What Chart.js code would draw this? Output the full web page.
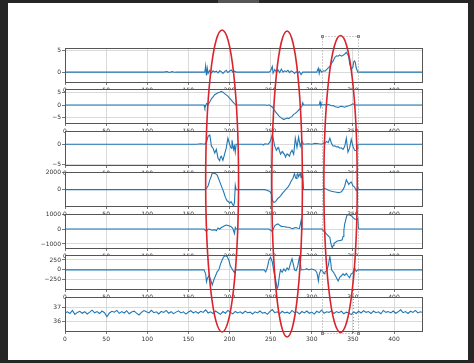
<!DOCTYPE html>
<html>
<head>
<meta charset="utf-8">
<script src="https://cdn.jsdelivr.net/npm/chart.js@4.4.1/dist/chart.umd.min.js"></script>
<style>
  body { margin:0; background:#262626; width:474px; height:363px; overflow:hidden; position:relative; }
  #paper { position:absolute; left:8px; top:3px; width:460px; height:357px; background:#fff; }
  #tab { position:absolute; left:218px; top:0; width:41px; height:3px; background:#555; }
  canvas { position:absolute; left:0; }
</style>
</head>
<body>
<div id="paper"></div>
<div id="tab"></div>
<div id="holder"></div>
<script>
// x ticks shared by every panel
const xTicks = [0, 50, 100, 150, 200, 250, 300, 350, 400]
const xMax = 434

// panel 1
const p1X = [0,120,124,127,130,133,136,170,171,172,173,174,176,178,180,182,184,186,188,190,192,194,196,198,200,202,204,206,208,248,250,252,253,255,257,259,261,263,265,267,269,271,273,275,277,279,281,283,285,287,289,306,308,309,310,312,314,316,318,320,322,324,326,328,330,332,334,336,338,340,342,344,345,346,348,350,351,352,353,354,356,434]
const p1Y = [0,0,0.1,-0.1,0.1,-0.05,0,0,1.5,-0.8,0.9,-0.3,0.4,-0.2,0.3,0,0.2,-0.2,0.3,0.1,-0.3,0.1,0.4,-0.1,0.2,0.5,0,0.2,0,0,0.3,1.3,-0.2,0.6,0,0.5,-0.1,0.7,0,0.3,0.1,0.4,-0.1,0.3,0.1,-0.3,0.1,-0.2,0.1,-0.6,0,0,0.9,-0.3,0.6,0,0.3,0.2,0.6,1.0,1.3,2.0,2.6,3.4,3.8,3.7,4.0,3.7,3.9,4.2,4.6,4.0,3.5,2.0,0.6,1.2,2.4,2.6,2.2,1.0,0,0]

// panel 2
const p2X = [0,169,170,171,172,174,176,178,180,182,184,186,188,190,192,194,196,198,200,202,204,206,208,244,246,248,250,252,254,256,258,260,262,264,266,268,270,272,274,276,278,280,282,284,286,288,289,290,309,310,311,312,314,316,318,320,322,324,326,328,330,332,334,336,338,340,342,344,346,348,350,351,353,434]
const p2Y = [0,0,-1.2,-0.3,0.6,0.2,1.2,2.5,3.3,4.2,4.6,5.0,5.2,5.5,5.2,4.6,4.1,3.6,2.8,2.1,1.3,0.6,0,0,-0.2,0.1,-0.4,-0.8,-1.8,-2.8,-3.6,-4.4,-5.0,-5.5,-5.9,-5.6,-5.3,-5.5,-5.0,-4.6,-3.8,-3.4,-2.8,-2.1,-1.4,-0.5,0.9,0,0,1.3,-0.5,0.4,0,0.2,-0.1,0.3,0,-0.3,-0.2,-0.6,-0.8,-1.0,-0.7,-0.5,-0.7,-0.9,-0.6,-0.4,-0.2,0.1,0.5,0.3,0,0]

// panel 3
const p3X = [0,160,165,170,172,174,176,177,178,180,182,184,186,188,189,190,192,194,196,198,199,200,202,203,205,206,207,208,240,241,243,247,249,251,252,254,255,257,259,260,262,264,265,267,268,270,271,273,274,276,278,280,282,284,286,288,290,296,300,304,308,312,314,316,318,320,322,324,326,328,330,332,334,336,338,340,342,344,346,348,350,352,354,355,356,434]
const p3Y = [0,0,0.1,0,0.5,2.0,2.3,1.0,-0.5,-1.0,-2.2,-1.3,-3.5,-4.1,-3.2,-3.0,-4.0,-2.5,-1.0,1.5,0.8,0,-1.0,1.0,-1.3,-0.5,-2.0,0,0,-0.2,0.1,0,0.5,1.6,2.4,0.5,-0.5,-1.5,-0.8,-1.2,-2.5,-1.8,-2.1,-2.6,-3.2,-2.4,-2.6,-3.0,-2.2,-1.5,-2.5,1.5,-0.8,1.8,-0.5,0.7,0,0.1,0,0.2,0.1,0,0.3,0.2,0.7,0.4,1.5,0.2,-0.5,-0.4,-0.7,-0.6,-1.0,-0.9,-1.3,-0.6,1.5,-2.0,-1.0,1.2,-0.5,-1.5,-1.6,-1.2,0,0]

// panel 4
const p4X = [0,170,172,174,176,178,179,181,183,185,187,189,191,193,195,197,199,200,202,204,205,206,207,208,243,246,249,251,252,254,256,257,259,261,263,265,267,269,271,273,275,277,278,279,280,281,282,283,284,286,287,288,289,290,313,315,318,321,324,327,330,333,336,338,340,342,344,345,347,348,350,352,354,356,357,434]
const p4Y = [0,0,150,450,1100,1600,1950,1900,1850,1700,1200,700,200,-300,-900,-1300,-1400,-1600,-1400,-1750,-1900,-1500,500,0,0,-100,-200,-500,-1200,-1500,-1400,-1250,-1000,-850,-600,-350,-150,100,300,600,1000,1300,1600,1850,1500,1300,1750,1850,1500,1900,1400,1850,1700,0,0,150,50,-100,-180,-250,-300,-350,-250,0,400,1150,800,600,850,900,450,300,-100,200,0,0]

// panel 5
const p5X = [0,169,171,172,174,176,178,180,182,184,186,188,190,192,194,196,198,200,202,204,206,207,208,248,250,252,254,255,257,259,261,263,265,267,269,271,273,275,277,279,281,283,285,286,287,288,312,314,316,318,320,322,323,324,325,326,327,329,331,333,335,337,338,339,340,341,342,343,344,346,348,350,352,354,356,357,434]
const p5Y = [0,0,-100,-160,0,-20,-60,-70,-40,-110,70,-10,100,160,220,270,240,200,150,50,-300,100,0,0,-80,-160,100,220,300,340,250,180,170,160,130,120,110,60,20,80,100,60,40,300,560,0,0,-110,-200,-340,-450,-560,-900,-1130,-1260,-1100,-950,-880,-800,-780,-760,-720,-500,-100,340,550,790,950,1000,950,900,780,680,650,700,0,0]

// panel 6
const p6X = [0,169,171,172,173,175,177,179,181,183,185,187,189,191,193,195,197,199,201,203,205,206,207,242,244,246,248,250,252,254,256,258,259,261,262,264,266,268,270,272,274,276,278,279,281,283,285,286,287,292,294,296,300,304,306,307,308,309,311,313,315,316,318,320,322,323,324,326,328,330,332,334,336,338,340,342,344,346,348,350,352,354,356,434]
const p6Y = [0,0,-100,-300,-220,-150,-250,-380,-250,-150,-50,0,140,250,330,360,340,260,100,30,-40,-70,0,0,-50,60,250,320,200,-50,-250,-470,-420,-100,0,-60,20,-30,50,0,150,280,100,0,-20,100,330,200,0,10,30,0,20,-10,-60,-150,-280,-120,0,-30,-100,-60,-20,100,340,200,0,-50,-120,-200,-280,-190,-150,-100,-140,-90,-150,-200,-100,-80,50,-40,0,0]

// panel 7, one value every 3 samples
const p7Step = 3
const p7Y = [36.62,36.70,36.58,36.80,36.52,36.66,36.74,36.60,36.71,36.55,36.68,36.82,36.63,36.72,36.58,36.76,36.64,36.35,36.62,36.74,36.67,36.80,36.59,36.72,36.62,36.78,36.56,36.69,36.75,36.61,36.48,36.66,36.79,36.70,36.62,36.81,36.64,36.70,36.55,36.73,36.66,36.80,36.60,36.71,36.57,36.68,36.77,36.62,36.70,36.54,36.69,36.78,36.63,36.72,36.60,36.74,36.66,36.84,36.62,36.70,36.58,36.76,36.64,36.52,36.72,36.60,36.80,36.66,36.56,36.73,36.62,36.70,36.58,36.75,36.64,36.68,36.55,36.70,36.62,36.76,36.60,36.66,36.52,36.72,36.86,36.64,36.70,36.56,36.74,36.62,36.68,36.58,36.80,36.64,36.70,36.55,36.72,36.62,36.76,36.60,36.68,36.54,36.74,36.64,36.82,36.60,36.70,36.66,36.78,36.58,36.72,36.64,36.74,36.56,36.68,36.62,36.50,36.70,36.58,36.74,36.62,36.78,36.66,36.72,36.58,36.76,36.64,36.70,36.56,36.80,36.66,36.72,36.62,36.76,36.60,36.70,36.84,36.64,36.72,36.58,36.74,36.66,36.80,36.62,36.70,36.66]
const p7X = p7Y.map((v, i) => i * p7Step)

const seriesX = [p1X, p2X, p3X, p4X, p5X, p6X, p7X]
const seriesY = [p1Y, p2Y, p3Y, p4Y, p5Y, p6Y, p7Y]
const yMins = [-2.3, -7.3, -5.2, -1900, -1270, -485, 35.33]
const yMaxs = [5.6, 6.5, 3.3, 2050, 1010, 376, 37.76]
const yTicks = [[0, 5], [-5, 0, 5], [-5, 0], [0, 2000], [-1000, 0, 1000], [-250, 0, 250], [36, 37]]

// layout of the figure
const panelTops = [48, 89, 131, 172, 214, 255, 297]
const panelH = 34
const padTop = 8
const xAxisH = 14
const tickFont = { family: 'DejaVu Sans', size: 6 }

const frame = {
  id: 'frame',
  beforeDraw(chart) {
    const a = chart.chartArea, ctx = chart.ctx
    ctx.save()
    ctx.fillStyle = '#fff'
    ctx.fillRect(a.left, a.top, a.right - a.left, a.bottom - a.top)
    ctx.restore()
  },
  afterDraw(chart) {
    const a = chart.chartArea, ctx = chart.ctx
    ctx.save()
    ctx.strokeStyle = '#555'
    ctx.lineWidth = 1
    ctx.strokeRect(Math.round(a.left) + 0.5, Math.round(a.top) + 0.5, Math.round(a.right - a.left), Math.round(a.bottom - a.top))
    ctx.restore()
  }
}

const holder = document.getElementById('holder')

for (let i = 0; i < 7; i++) {
  const cv = document.createElement('canvas')
  cv.width = 474
  cv.height = padTop + panelH + xAxisH
  cv.style.top = (panelTops[i] - padTop) + 'px'
  holder.appendChild(cv)

  const points = seriesX[i].map((x, k) => ({ x: x, y: seriesY[i][k] }))

  new Chart(cv, {
    type: 'line',
    data: { datasets: [{ data: points, borderColor: '#1f77b4', borderWidth: 1.1, pointRadius: 0, tension: 0 }] },
    options: {
      animation: false,
      responsive: false,
      devicePixelRatio: 1,
      layout: { padding: { top: padTop, right: 52, left: 0, bottom: 0 } },
      plugins: { legend: { display: false }, tooltip: { enabled: false } },
      scales: {
        x: {
          type: 'linear', min: 0, max: xMax,
          afterBuildTicks: s => { s.ticks = xTicks.map(v => ({ value: v })) },
          afterFit: s => { s.height = xAxisH },
          ticks: { font: tickFont, color: '#333', padding: 2, maxRotation: 0, autoSkip: false },
          grid: { color: '#d0d0d0', lineWidth: 0.8, tickLength: 3, tickColor: '#555' },
          border: { display: false }
        },
        y: {
          min: yMins[i], max: yMaxs[i],
          afterBuildTicks: s => { s.ticks = yTicks[i].map(v => ({ value: v })) },
          afterFit: s => { s.width = 65 },
          ticks: { font: tickFont, color: '#333', padding: 1, callback: v => String(v).replace('-', '\u2212') },
          grid: { color: '#d0d0d0', lineWidth: 0.8, tickLength: 3, tickColor: '#555' },
          border: { display: false }
        }
      }
    },
    plugins: [frame]
  })
}

// hand drawn marks on top of the figure (x in data units, y in figure pixels)
const ellipseX = [191, 270, 335]
const ellipseRX = [20, 18.6, 20.3]
const ellipseY = [181, 184, 184]
const ellipseRY = [151, 153, 148.5]
const selectX = [312.5, 356.5]
const selectY = [36, 333]

const marks = {
  id: 'marks',
  afterDraw(chart) {
    const sx = chart.scales.x, sy = chart.scales.y, ctx = chart.ctx
    ctx.save()
    // selection box
    ctx.strokeStyle = '#999'
    ctx.lineWidth = 1
    ctx.setLineDash([1, 2])
    const x0 = Math.round(sx.getPixelForValue(selectX[0])) + 0.5
    const x1 = Math.round(sx.getPixelForValue(selectX[1])) + 0.5
    const y0 = Math.round(sy.getPixelForValue(selectY[0])) + 0.5
    const y1 = Math.round(sy.getPixelForValue(selectY[1])) + 0.5
    ctx.strokeRect(x0, y0, x1 - x0, y1 - y0)
    const xm = Math.round(sx.getPixelForValue(350.4)) + 0.5
    ctx.beginPath()
    ctx.moveTo(xm, sy.getPixelForValue(290))
    ctx.lineTo(xm, y1)
    ctx.stroke()
    ctx.setLineDash([])
    ctx.strokeStyle = '#888'
    ;[[x0, y0], [x1, y0], [x0, y1], [x1, y1]].forEach(c => ctx.strokeRect(c[0] - 1, c[1] - 1, 2, 2))
    // red ellipses
    ctx.strokeStyle = '#d9232d'
    ctx.lineWidth = 1.6
    for (let k = 0; k < ellipseX.length; k++) {
      const cx = sx.getPixelForValue(ellipseX[k])
      const rx = sx.getPixelForValue(ellipseX[k] + ellipseRX[k]) - cx
      const cy = sy.getPixelForValue(ellipseY[k])
      const ry = sy.getPixelForValue(ellipseY[k] + ellipseRY[k]) - cy
      ctx.beginPath()
      ctx.ellipse(cx, cy, rx, Math.abs(ry), 0, 0, Math.PI * 2)
      ctx.stroke()
    }
    ctx.restore()
  }
}

const over = document.createElement('canvas')
over.width = 474
over.height = 363
over.style.top = '0px'
holder.appendChild(over)
new Chart(over, {
  type: 'scatter',
  data: { datasets: [] },
  options: {
    animation: false,
    responsive: false,
    devicePixelRatio: 1,
    layout: { padding: { top: 0, right: 52, left: 65, bottom: 0 } },
    plugins: { legend: { display: false }, tooltip: { enabled: false } },
    scales: {
      x: { type: 'linear', min: 0, max: xMax, display: false },
      y: { type: 'linear', min: 0, max: 363, reverse: true, display: false }
    }
  },
  plugins: [marks]
})
</script>
</body>
</html>
